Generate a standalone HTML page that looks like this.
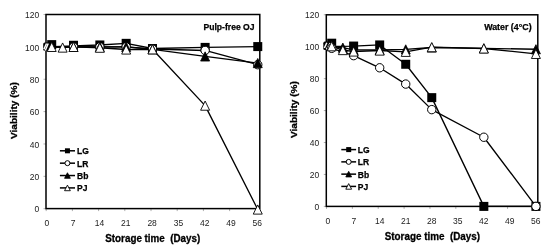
<!DOCTYPE html>
<html><head><meta charset="utf-8"><style>
html,body{margin:0;padding:0;background:#fff;}
svg{display:block;}
text{font-family:"Liberation Sans",Arial,sans-serif;fill:#000;}
.tk{font-size:9.3px;fill:#222;}
.ti{font-size:10.4px;font-weight:bold;stroke:#000;stroke-width:0.3px;}
.yt{font-size:9.8px;font-weight:bold;stroke:#000;stroke-width:0.3px;}
.pl{font-size:8.6px;font-weight:bold;stroke:#000;stroke-width:0.25px;}
.lg{font-size:8.5px;font-weight:bold;stroke:#000;stroke-width:0.25px;}
</style></head><body>
<svg width="550" height="249" viewBox="0 0 550 249">
<rect width="550" height="249" fill="#fff"/>
<line x1="43.5" y1="208.7" x2="46" y2="208.7" stroke="#999" stroke-width="0.8"/>
<text x="39.3" y="212.4" text-anchor="end" class="tk" textLength="4.73" lengthAdjust="spacingAndGlyphs">0</text>
<line x1="43.5" y1="176.34" x2="46" y2="176.34" stroke="#999" stroke-width="0.8"/>
<text x="39.3" y="180.04" text-anchor="end" class="tk" textLength="9.45" lengthAdjust="spacingAndGlyphs">20</text>
<line x1="43.5" y1="143.98" x2="46" y2="143.98" stroke="#999" stroke-width="0.8"/>
<text x="39.3" y="147.68" text-anchor="end" class="tk" textLength="9.45" lengthAdjust="spacingAndGlyphs">40</text>
<line x1="43.5" y1="111.62" x2="46" y2="111.62" stroke="#999" stroke-width="0.8"/>
<text x="39.3" y="115.32" text-anchor="end" class="tk" textLength="9.45" lengthAdjust="spacingAndGlyphs">60</text>
<line x1="43.5" y1="79.26" x2="46" y2="79.26" stroke="#999" stroke-width="0.8"/>
<text x="39.3" y="82.96" text-anchor="end" class="tk" textLength="9.45" lengthAdjust="spacingAndGlyphs">80</text>
<line x1="43.5" y1="46.9" x2="46" y2="46.9" stroke="#999" stroke-width="0.8"/>
<text x="39.3" y="50.6" text-anchor="end" class="tk" textLength="14.18" lengthAdjust="spacingAndGlyphs">100</text>
<line x1="43.5" y1="14.54" x2="46" y2="14.54" stroke="#999" stroke-width="0.8"/>
<text x="39.3" y="18.24" text-anchor="end" class="tk" textLength="14.18" lengthAdjust="spacingAndGlyphs">120</text>
<line x1="46.2" y1="208.6" x2="46.2" y2="211.1" stroke="#999" stroke-width="0.8"/>
<text x="46.9" y="225.6" text-anchor="middle" class="tk" textLength="4.73" lengthAdjust="spacingAndGlyphs">0</text>
<line x1="72.4" y1="208.6" x2="72.4" y2="211.1" stroke="#999" stroke-width="0.8"/>
<text x="73.2" y="225.6" text-anchor="middle" class="tk" textLength="4.73" lengthAdjust="spacingAndGlyphs">7</text>
<line x1="98.6" y1="208.6" x2="98.6" y2="211.1" stroke="#999" stroke-width="0.8"/>
<text x="99.5" y="225.6" text-anchor="middle" class="tk" textLength="9.45" lengthAdjust="spacingAndGlyphs">14</text>
<line x1="124.8" y1="208.6" x2="124.8" y2="211.1" stroke="#999" stroke-width="0.8"/>
<text x="125.8" y="225.6" text-anchor="middle" class="tk" textLength="9.45" lengthAdjust="spacingAndGlyphs">21</text>
<line x1="151" y1="208.6" x2="151" y2="211.1" stroke="#999" stroke-width="0.8"/>
<text x="152.1" y="225.6" text-anchor="middle" class="tk" textLength="9.45" lengthAdjust="spacingAndGlyphs">28</text>
<line x1="177.2" y1="208.6" x2="177.2" y2="211.1" stroke="#999" stroke-width="0.8"/>
<text x="178.4" y="225.6" text-anchor="middle" class="tk" textLength="9.45" lengthAdjust="spacingAndGlyphs">35</text>
<line x1="203.41" y1="208.6" x2="203.41" y2="211.1" stroke="#999" stroke-width="0.8"/>
<text x="204.69" y="225.6" text-anchor="middle" class="tk" textLength="9.45" lengthAdjust="spacingAndGlyphs">42</text>
<line x1="229.61" y1="208.6" x2="229.61" y2="211.1" stroke="#999" stroke-width="0.8"/>
<text x="230.99" y="225.6" text-anchor="middle" class="tk" textLength="9.45" lengthAdjust="spacingAndGlyphs">49</text>
<line x1="255.81" y1="208.6" x2="255.81" y2="211.1" stroke="#999" stroke-width="0.8"/>
<text x="257.29" y="225.6" text-anchor="middle" class="tk" textLength="9.45" lengthAdjust="spacingAndGlyphs">56</text>
<rect x="46" y="14.5" width="213.8" height="194.1" fill="none" stroke="#000" stroke-width="1.5"/>
<polyline points="47.2,46.9 73.52,45.93 99.84,44.96 126.16,43.34 152.48,48.52 205.12,47.39 257.76,46.58" fill="none" stroke="#000" stroke-width="1.35" stroke-linejoin="round"/>
<polyline points="47.2,46.9 73.52,46.9 99.84,46.9 126.16,46.9 152.48,49 205.12,50.46 257.76,64.7" fill="none" stroke="#000" stroke-width="1.35" stroke-linejoin="round"/>
<polyline points="47.2,46.9 73.52,46.9 99.84,46.9 126.16,46.9 152.48,49.33 205.12,56.45 257.76,63.08" fill="none" stroke="#000" stroke-width="1.35" stroke-linejoin="round"/>
<polyline points="47.2,46.9 51.71,46.9 62.62,47.55 73.52,46.9 99.84,47.71 126.16,49.49 152.48,49.33 205.12,105.63 257.76,209.51" fill="none" stroke="#000" stroke-width="1.35" stroke-linejoin="round"/>
<rect x="47.21" y="40.13" width="9" height="9" fill="#000"/>
<rect x="69.02" y="40.78" width="9" height="9" fill="#000"/>
<rect x="95.34" y="40.46" width="9" height="9" fill="#000"/>
<rect x="121.66" y="38.84" width="9" height="9" fill="#000"/>
<rect x="147.98" y="44.02" width="9" height="9" fill="#000"/>
<rect x="200.62" y="42.89" width="9" height="9" fill="#000"/>
<rect x="253.26" y="42.08" width="9" height="9" fill="#000"/>
<rect x="43.2" y="42.4" width="8" height="8.4" rx="1.6" fill="#000"/><line x1="43.9" y1="49.2" x2="46.5" y2="43.5" stroke="#fff" stroke-width="1.5"/><line x1="45.3" y1="50.5" x2="48.2" y2="43.5" stroke="#fff" stroke-width="1.5"/>
<circle cx="73.52" cy="46.9" r="4.2" fill="#fff" stroke="#000" stroke-width="1"/>
<circle cx="99.84" cy="46.9" r="4.2" fill="#fff" stroke="#000" stroke-width="1"/>
<circle cx="126.16" cy="46.9" r="4.2" fill="#fff" stroke="#000" stroke-width="1"/>
<circle cx="152.48" cy="49" r="4.2" fill="#fff" stroke="#000" stroke-width="1"/>
<circle cx="205.12" cy="50.46" r="4.2" fill="#fff" stroke="#000" stroke-width="1"/>
<circle cx="257.76" cy="64.7" r="4.2" fill="#fff" stroke="#000" stroke-width="1"/>
<polygon points="73.52,42.3 78.02,51.5 69.02,51.5" fill="#000" stroke="#000" stroke-width="0.8" stroke-linejoin="miter"/>
<polygon points="99.84,42.3 104.34,51.5 95.34,51.5" fill="#000" stroke="#000" stroke-width="0.8" stroke-linejoin="miter"/>
<polygon points="126.16,42.3 130.66,51.5 121.66,51.5" fill="#000" stroke="#000" stroke-width="0.8" stroke-linejoin="miter"/>
<polygon points="152.48,44.73 156.98,53.93 147.98,53.93" fill="#000" stroke="#000" stroke-width="0.8" stroke-linejoin="miter"/>
<polygon points="205.12,51.85 209.62,61.05 200.62,61.05" fill="#000" stroke="#000" stroke-width="0.8" stroke-linejoin="miter"/>
<polygon points="257.76,58.48 262.26,67.68 253.26,67.68" fill="#000" stroke="#000" stroke-width="0.8" stroke-linejoin="miter"/>
<polygon points="51.71,42.3 56.21,51.5 47.21,51.5" fill="#fff" stroke="#000" stroke-width="0.9" stroke-linejoin="miter"/>
<polygon points="62.62,42.95 67.12,52.15 58.12,52.15" fill="#fff" stroke="#000" stroke-width="0.9" stroke-linejoin="miter"/>
<polygon points="73.52,42.3 78.02,51.5 69.02,51.5" fill="#fff" stroke="#000" stroke-width="0.9" stroke-linejoin="miter"/>
<polygon points="99.84,43.11 104.34,52.31 95.34,52.31" fill="#fff" stroke="#000" stroke-width="0.9" stroke-linejoin="miter"/>
<polygon points="126.16,44.89 130.66,54.09 121.66,54.09" fill="#fff" stroke="#000" stroke-width="0.9" stroke-linejoin="miter"/>
<polygon points="152.48,44.73 156.98,53.93 147.98,53.93" fill="#fff" stroke="#000" stroke-width="0.9" stroke-linejoin="miter"/>
<polygon points="205.12,101.03 209.62,110.23 200.62,110.23" fill="#fff" stroke="#000" stroke-width="0.9" stroke-linejoin="miter"/>
<polygon points="257.76,204.91 262.26,214.11 253.26,214.11" fill="#fff" stroke="#000" stroke-width="0.9" stroke-linejoin="miter"/>
<text x="203.5" y="30" class="pl" textLength="51" lengthAdjust="spacingAndGlyphs">Pulp-free OJ</text>
<line x1="59.9" y1="150.8" x2="75" y2="150.8" stroke="#000" stroke-width="1.5"/>
<rect x="64.95" y="148.3" width="5" height="5" fill="#000"/>
<text x="77" y="154.2" class="lg">LG</text>
<line x1="59.9" y1="163.17" x2="75" y2="163.17" stroke="#000" stroke-width="1.5"/>
<circle cx="67.45" cy="163.17" r="2.5" fill="#fff" stroke="#000" stroke-width="1"/>
<text x="77" y="166.57" class="lg">LR</text>
<line x1="59.9" y1="175.54" x2="75" y2="175.54" stroke="#000" stroke-width="1.5"/>
<polygon points="67.45,172.74 70.35,178.34 64.55,178.34" fill="#000" stroke="#000" stroke-width="0.8" stroke-linejoin="miter"/>
<text x="77" y="178.94" class="lg">Bb</text>
<line x1="59.9" y1="187.91" x2="75" y2="187.91" stroke="#000" stroke-width="1.5"/>
<polygon points="67.45,185.11 70.35,190.71 64.55,190.71" fill="#fff" stroke="#000" stroke-width="0.9" stroke-linejoin="miter"/>
<text x="77" y="191.31" class="lg">PJ</text>
<text x="105.3" y="241.5" class="ti" textLength="95" lengthAdjust="spacingAndGlyphs" xml:space="preserve">Storage time  (Days)</text>
<text transform="translate(16.6,139) rotate(-90)" class="yt" textLength="56.8" lengthAdjust="spacingAndGlyphs">Viability (%)</text>
<line x1="323.8" y1="206.4" x2="326.3" y2="206.4" stroke="#999" stroke-width="0.8"/>
<text x="319.2" y="210.1" text-anchor="end" class="tk" textLength="4.73" lengthAdjust="spacingAndGlyphs">0</text>
<line x1="323.8" y1="174.46" x2="326.3" y2="174.46" stroke="#999" stroke-width="0.8"/>
<text x="319.2" y="178.16" text-anchor="end" class="tk" textLength="9.45" lengthAdjust="spacingAndGlyphs">20</text>
<line x1="323.8" y1="142.52" x2="326.3" y2="142.52" stroke="#999" stroke-width="0.8"/>
<text x="319.2" y="146.22" text-anchor="end" class="tk" textLength="9.45" lengthAdjust="spacingAndGlyphs">40</text>
<line x1="323.8" y1="110.58" x2="326.3" y2="110.58" stroke="#999" stroke-width="0.8"/>
<text x="319.2" y="114.28" text-anchor="end" class="tk" textLength="9.45" lengthAdjust="spacingAndGlyphs">60</text>
<line x1="323.8" y1="78.64" x2="326.3" y2="78.64" stroke="#999" stroke-width="0.8"/>
<text x="319.2" y="82.34" text-anchor="end" class="tk" textLength="9.45" lengthAdjust="spacingAndGlyphs">80</text>
<line x1="323.8" y1="46.7" x2="326.3" y2="46.7" stroke="#999" stroke-width="0.8"/>
<text x="319.2" y="50.4" text-anchor="end" class="tk" textLength="14.18" lengthAdjust="spacingAndGlyphs">100</text>
<line x1="323.8" y1="14.76" x2="326.3" y2="14.76" stroke="#999" stroke-width="0.8"/>
<text x="319.2" y="18.46" text-anchor="end" class="tk" textLength="14.18" lengthAdjust="spacingAndGlyphs">120</text>
<line x1="326.5" y1="206.4" x2="326.5" y2="208.9" stroke="#999" stroke-width="0.8"/>
<text x="327.9" y="223.8" text-anchor="middle" class="tk" textLength="4.73" lengthAdjust="spacingAndGlyphs">0</text>
<line x1="352.37" y1="206.4" x2="352.37" y2="208.9" stroke="#999" stroke-width="0.8"/>
<text x="353.87" y="223.8" text-anchor="middle" class="tk" textLength="4.73" lengthAdjust="spacingAndGlyphs">7</text>
<line x1="378.23" y1="206.4" x2="378.23" y2="208.9" stroke="#999" stroke-width="0.8"/>
<text x="379.84" y="223.8" text-anchor="middle" class="tk" textLength="9.45" lengthAdjust="spacingAndGlyphs">14</text>
<line x1="404.1" y1="206.4" x2="404.1" y2="208.9" stroke="#999" stroke-width="0.8"/>
<text x="405.81" y="223.8" text-anchor="middle" class="tk" textLength="9.45" lengthAdjust="spacingAndGlyphs">21</text>
<line x1="429.96" y1="206.4" x2="429.96" y2="208.9" stroke="#999" stroke-width="0.8"/>
<text x="431.78" y="223.8" text-anchor="middle" class="tk" textLength="9.45" lengthAdjust="spacingAndGlyphs">28</text>
<line x1="455.82" y1="206.4" x2="455.82" y2="208.9" stroke="#999" stroke-width="0.8"/>
<text x="457.75" y="223.8" text-anchor="middle" class="tk" textLength="9.45" lengthAdjust="spacingAndGlyphs">35</text>
<line x1="481.69" y1="206.4" x2="481.69" y2="208.9" stroke="#999" stroke-width="0.8"/>
<text x="483.72" y="223.8" text-anchor="middle" class="tk" textLength="9.45" lengthAdjust="spacingAndGlyphs">42</text>
<line x1="507.55" y1="206.4" x2="507.55" y2="208.9" stroke="#999" stroke-width="0.8"/>
<text x="509.69" y="223.8" text-anchor="middle" class="tk" textLength="9.45" lengthAdjust="spacingAndGlyphs">49</text>
<line x1="533.42" y1="206.4" x2="533.42" y2="208.9" stroke="#999" stroke-width="0.8"/>
<text x="535.66" y="223.8" text-anchor="middle" class="tk" textLength="9.45" lengthAdjust="spacingAndGlyphs">56</text>
<rect x="326.3" y="14.8" width="211.5" height="191.6" fill="none" stroke="#000" stroke-width="1.5"/>
<polyline points="327.6,46.54 353.64,46.06 379.68,44.94 405.72,64.27 431.76,97.64 483.84,206.4 535.92,206.4" fill="none" stroke="#000" stroke-width="1.35" stroke-linejoin="round"/>
<polyline points="327.6,46.22 332.06,48.46 353.64,55.64 379.68,67.78 405.72,84.07 431.76,109.62 483.84,137.25 535.92,206.4" fill="none" stroke="#000" stroke-width="1.35" stroke-linejoin="round"/>
<polyline points="327.6,46.7 342.85,47.66 353.64,49.89 379.68,49.89 405.72,49.41 431.76,47.5 483.84,48.3 535.92,49.26" fill="none" stroke="#000" stroke-width="1.35" stroke-linejoin="round"/>
<polyline points="332.06,46.38 342.85,50.05 353.64,51.49 379.68,50.53 405.72,51.81 431.76,47.18 483.84,48.46 535.92,53.89" fill="none" stroke="#000" stroke-width="1.35" stroke-linejoin="round"/>
<rect x="327.19" y="38.69" width="9" height="9" fill="#000"/>
<rect x="349.14" y="41.56" width="9" height="9" fill="#000"/>
<rect x="375.18" y="40.44" width="9" height="9" fill="#000"/>
<rect x="401.22" y="59.77" width="9" height="9" fill="#000"/>
<rect x="427.26" y="93.14" width="9" height="9" fill="#000"/>
<rect x="479.34" y="201.9" width="9" height="9" fill="#000"/>
<rect x="531.42" y="201.9" width="9" height="9" fill="#000"/>
<rect x="323.3" y="41.6" width="8" height="8.4" rx="1.6" fill="#000"/><line x1="324.4" y1="48" x2="326.8" y2="42.8" stroke="#fff" stroke-width="1.5"/><line x1="326.4" y1="49.3" x2="330.3" y2="43.2" stroke="#fff" stroke-width="1.5"/>
<circle cx="331.69" cy="48.3" r="4.2" fill="#fff" stroke="#000" stroke-width="1"/>
<circle cx="353.64" cy="55.64" r="4.2" fill="#fff" stroke="#000" stroke-width="1"/>
<circle cx="379.68" cy="67.78" r="4.2" fill="#fff" stroke="#000" stroke-width="1"/>
<circle cx="405.72" cy="84.07" r="4.2" fill="#fff" stroke="#000" stroke-width="1"/>
<circle cx="431.76" cy="109.62" r="4.2" fill="#fff" stroke="#000" stroke-width="1"/>
<circle cx="483.84" cy="137.25" r="4.2" fill="#fff" stroke="#000" stroke-width="1"/>
<circle cx="535.92" cy="206.4" r="4.2" fill="#fff" stroke="#000" stroke-width="1"/>
<polygon points="342.85,43.06 347.35,52.26 338.35,52.26" fill="#000" stroke="#000" stroke-width="0.8" stroke-linejoin="miter"/>
<polygon points="353.64,45.29 358.14,54.49 349.14,54.49" fill="#000" stroke="#000" stroke-width="0.8" stroke-linejoin="miter"/>
<polygon points="379.68,45.29 384.18,54.49 375.18,54.49" fill="#000" stroke="#000" stroke-width="0.8" stroke-linejoin="miter"/>
<polygon points="405.72,44.81 410.22,54.01 401.22,54.01" fill="#000" stroke="#000" stroke-width="0.8" stroke-linejoin="miter"/>
<polygon points="431.76,42.9 436.26,52.1 427.26,52.1" fill="#000" stroke="#000" stroke-width="0.8" stroke-linejoin="miter"/>
<polygon points="483.84,43.7 488.34,52.9 479.34,52.9" fill="#000" stroke="#000" stroke-width="0.8" stroke-linejoin="miter"/>
<polygon points="535.92,44.66 540.42,53.86 531.42,53.86" fill="#000" stroke="#000" stroke-width="0.8" stroke-linejoin="miter"/>
<polygon points="331.69,41.62 336.19,50.82 327.19,50.82" fill="#fff" stroke="#000" stroke-width="0.9" stroke-linejoin="miter"/>
<polygon points="342.85,45.45 347.35,54.65 338.35,54.65" fill="#fff" stroke="#000" stroke-width="0.9" stroke-linejoin="miter"/>
<polygon points="353.64,46.89 358.14,56.09 349.14,56.09" fill="#fff" stroke="#000" stroke-width="0.9" stroke-linejoin="miter"/>
<polygon points="379.68,45.93 384.18,55.13 375.18,55.13" fill="#fff" stroke="#000" stroke-width="0.9" stroke-linejoin="miter"/>
<polygon points="405.72,47.21 410.22,56.41 401.22,56.41" fill="#fff" stroke="#000" stroke-width="0.9" stroke-linejoin="miter"/>
<polygon points="431.76,42.58 436.26,51.78 427.26,51.78" fill="#fff" stroke="#000" stroke-width="0.9" stroke-linejoin="miter"/>
<polygon points="483.84,43.86 488.34,53.06 479.34,53.06" fill="#fff" stroke="#000" stroke-width="0.9" stroke-linejoin="miter"/>
<polygon points="535.92,49.29 540.42,58.49 531.42,58.49" fill="#fff" stroke="#000" stroke-width="0.9" stroke-linejoin="miter"/>
<text x="484.2" y="30" class="pl" textLength="47.4" lengthAdjust="spacingAndGlyphs">Water (4°C)</text>
<line x1="341.3" y1="149.6" x2="356.1" y2="149.6" stroke="#000" stroke-width="1.5"/>
<rect x="346.2" y="147.1" width="5" height="5" fill="#000"/>
<text x="357.8" y="153" class="lg">LG</text>
<line x1="341.3" y1="161.87" x2="356.1" y2="161.87" stroke="#000" stroke-width="1.5"/>
<circle cx="348.7" cy="161.87" r="2.5" fill="#fff" stroke="#000" stroke-width="1"/>
<text x="357.8" y="165.27" class="lg">LR</text>
<line x1="341.3" y1="174.14" x2="356.1" y2="174.14" stroke="#000" stroke-width="1.5"/>
<polygon points="348.7,171.34 351.6,176.94 345.8,176.94" fill="#000" stroke="#000" stroke-width="0.8" stroke-linejoin="miter"/>
<text x="357.8" y="177.54" class="lg">Bb</text>
<line x1="341.3" y1="186.41" x2="356.1" y2="186.41" stroke="#000" stroke-width="1.5"/>
<polygon points="348.7,183.61 351.6,189.21 345.8,189.21" fill="#fff" stroke="#000" stroke-width="0.9" stroke-linejoin="miter"/>
<text x="357.8" y="189.81" class="lg">PJ</text>
<text x="384.7" y="239.7" class="ti" textLength="95.4" lengthAdjust="spacingAndGlyphs" xml:space="preserve">Storage time  (Days)</text>
<text transform="translate(296.9,138) rotate(-90)" class="yt" textLength="56.8" lengthAdjust="spacingAndGlyphs">Viability (%)</text>
</svg>
</body></html>
